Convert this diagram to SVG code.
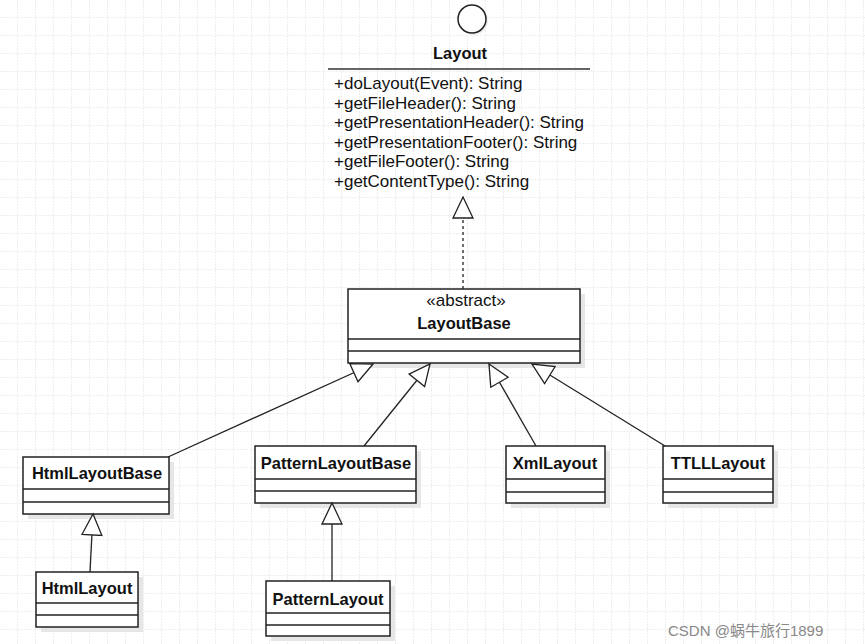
<svg xmlns="http://www.w3.org/2000/svg" width="865" height="644" viewBox="0 0 865 644">
<style>
.box{fill:#fff;stroke:#222;stroke-width:1.5}
.sh{fill:#e6e6e6}
.t{font-family:"Liberation Sans",Arial,sans-serif;font-size:17px;fill:#111}
.b{font-weight:bold;font-size:16.5px}
.c{stroke:#222;stroke-width:1.3;fill:none}
</style>
<defs>
<pattern id="g" width="18" height="18" patternUnits="userSpaceOnUse">
<path d="M18 0V18M0 18H18" stroke="#ddd" stroke-width="1" stroke-dasharray="2 1" fill="none"/>
</pattern>
<marker id="tri" markerWidth="24" markerHeight="24" refX="22" refY="11" orient="auto" markerUnits="userSpaceOnUse">
<path d="M1 1L22 11L1 21Z" fill="#fff" stroke="#222" stroke-width="1.3"/>
</marker>
</defs>
<rect width="865" height="644" fill="#fff"/>
<rect width="865" height="644" fill="url(#g)"/>
<g id="Layout">
<circle cx="474" cy="21" r="14" fill="#eee"/>
<circle cx="472" cy="19" r="14" fill="#fff" stroke="#222" stroke-width="1.5"/>
<text class="t b" x="460" y="59" text-anchor="middle">Layout</text>
<line x1="328" y1="69" x2="590" y2="69" stroke="#333" stroke-width="1.5"/>
<text class="t" x="334" y="89">+doLayout(Event): String</text>
<text class="t" x="334" y="108.5">+getFileHeader(): String</text>
<text class="t" x="334" y="128">+getPresentationHeader(): String</text>
<text class="t" x="334" y="147.5">+getPresentationFooter(): String</text>
<text class="t" x="334" y="167">+getFileFooter(): String</text>
<text class="t" x="334" y="186.5">+getContentType(): String</text>
</g>
<g id="LayoutBase">
<rect class="sh" x="353" y="294" width="232" height="74"/>
<rect class="box" x="348" y="289" width="232" height="74"/>
<line class="c" x1="348" y1="339" x2="580" y2="339"/>
<line class="c" x1="348" y1="351" x2="580" y2="351"/>
<text class="t" x="466" y="306" text-anchor="middle" font-size="15">«abstract»</text>
<text class="t b" x="464" y="329" text-anchor="middle">LayoutBase</text>
</g>
<g id="HtmlLayoutBase">
<rect class="sh" x="28" y="462" width="146" height="57"/>
<rect class="box" x="23" y="457" width="146" height="57"/>
<line class="c" x1="23" y1="489" x2="169" y2="489"/>
<line class="c" x1="23" y1="502" x2="169" y2="502"/>
<text class="t b" x="97" y="479" text-anchor="middle">HtmlLayoutBase</text>
</g>
<g id="PatternLayoutBase">
<rect class="sh" x="260" y="451" width="161" height="57"/>
<rect class="box" x="255" y="446" width="161" height="57"/>
<line class="c" x1="255" y1="479" x2="416" y2="479"/>
<line class="c" x1="255" y1="491" x2="416" y2="491"/>
<text class="t b" x="336" y="469" text-anchor="middle">PatternLayoutBase</text>
</g>
<g id="XmlLayout">
<rect class="sh" x="511" y="451" width="99" height="57"/>
<rect class="box" x="506" y="446" width="99" height="57"/>
<line class="c" x1="506" y1="479" x2="605" y2="479"/>
<line class="c" x1="506" y1="492" x2="605" y2="492"/>
<text class="t b" x="555" y="469" text-anchor="middle">XmlLayout</text>
</g>
<g id="TTLLLayout">
<rect class="sh" x="668" y="451" width="110" height="57"/>
<rect class="box" x="663" y="446" width="110" height="57"/>
<line class="c" x1="663" y1="479" x2="773" y2="479"/>
<line class="c" x1="663" y1="492" x2="773" y2="492"/>
<text class="t b" x="718" y="469" text-anchor="middle">TTLLLayout</text>
</g>
<g id="HtmlLayout">
<rect class="sh" x="41" y="577" width="102" height="55"/>
<rect class="box" x="36" y="572" width="102" height="55"/>
<line class="c" x1="36" y1="603" x2="138" y2="603"/>
<line class="c" x1="36" y1="615" x2="138" y2="615"/>
<text class="t b" x="87" y="594" text-anchor="middle">HtmlLayout</text>
</g>
<g id="PatternLayout">
<rect class="sh" x="271" y="586" width="124" height="55"/>
<rect class="box" x="266" y="581" width="124" height="55"/>
<line class="c" x1="266" y1="613" x2="390" y2="613"/>
<line class="c" x1="266" y1="625" x2="390" y2="625"/>
<text class="t b" x="328" y="605" text-anchor="middle">PatternLayout</text>
</g>
<g id="connectors">
<line class="c" x1="463" y1="289" x2="463" y2="197" stroke-dasharray="3 3" marker-end="url(#tri)"/>
<line class="c" x1="168" y1="457" x2="373" y2="364" marker-end="url(#tri)"/>
<line class="c" x1="364" y1="446" x2="430" y2="364" marker-end="url(#tri)"/>
<line class="c" x1="536" y1="446" x2="489" y2="364" marker-end="url(#tri)"/>
<line class="c" x1="665" y1="446" x2="532" y2="364" marker-end="url(#tri)"/>
<line class="c" x1="90" y1="572" x2="93" y2="514" marker-end="url(#tri)"/>
<line class="c" x1="332" y1="581" x2="332" y2="503" marker-end="url(#tri)"/>
</g>
<text x="668" y="636" font-family="'Liberation Sans','Noto Sans CJK SC',sans-serif" font-size="15" fill="#888">CSDN @蜗牛旅行1899</text>
</svg>
